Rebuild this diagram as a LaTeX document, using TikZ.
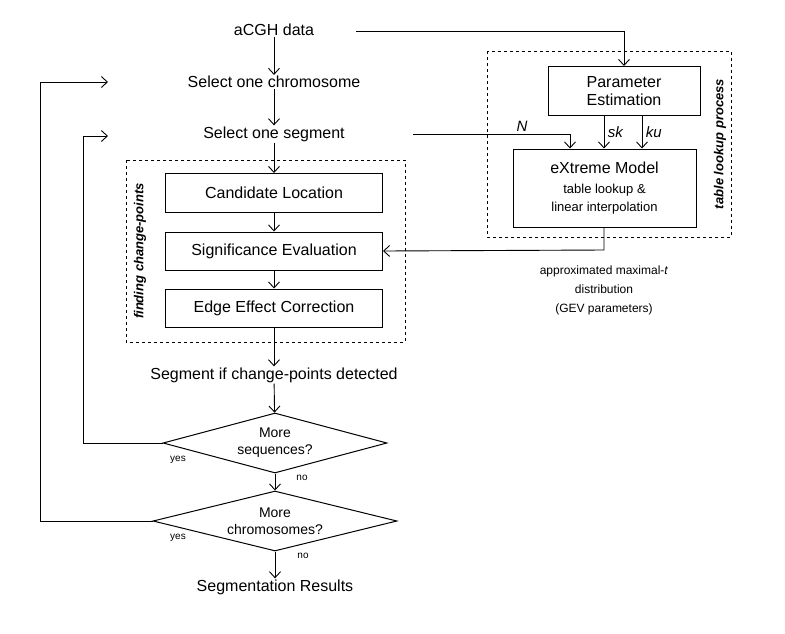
\documentclass[tikz,border=0pt]{standalone}
\usepackage{fontspec}
\setmainfont{Liberation Sans}
\usetikzlibrary{arrows.meta,shapes.geometric,positioning}

\tikzset{
    flow/.style={-{Straight Barb[length=6pt,width=11pt]}, line width=0.9pt},
    procbox/.style={draw, line width=1pt, inner sep=0pt, font=\fontsize{16}{18}\selectfont},
    txt/.style={inner sep=1pt, font=\fontsize{16}{18}\selectfont},
    decision/.style={draw, diamond, aspect=3.73, line width=1pt, inner sep=0pt, minimum width=224pt, minimum height=60pt, align=center, font=\fontsize{14}{17}\selectfont},
    group/.style={draw, dashed, line width=0.8pt},
    small/.style={font=\fontsize{10}{12}\selectfont},
}

\begin{document}
\begin{tikzpicture}[x=1pt, y=-1pt]
    \useasboundingbox (0,0) rectangle (785,633);

    % Main chain
    \node[txt] (data) at (274,30) {aCGH data};
    \node[txt] (chrom) at (274,82) {Select one chromosome};
    \node[txt] (seg) at (274,134) {Select one segment};

    % Finding change-points box
    \draw[group] (126,160) rectangle (405,342);
    \node[rotate=90, font=\fontsize{13}{15}\selectfont\bfseries\itshape] at (140,251) {finding change-points};
    \node[procbox, minimum width=217pt, minimum height=39pt] (cand) at (274,193) {Candidate Location};
    \node[procbox, minimum width=217pt, minimum height=38pt] (sig) at (274,251) {Significance Evaluation};
    \node[procbox, minimum width=217pt, minimum height=38pt] (edge) at (274,308) {Edge Effect Correction};

    \node[txt] (split) at (274,375) {Segment if change-points detected};
    \node[decision] (moreseq) at (275,443) {More\\sequences?};
    \node[decision, minimum width=244pt, aspect=4.07] (morechr) at (275,521) {More\\chromosomes?};
    \node[txt] (result) at (275,587) {Segmentation Results};

    \draw[flow] (data) -- (chrom);
    \draw[flow] (chrom) -- (seg);
    \draw[flow] (seg) -- (cand);
    \draw[flow] (cand) -- (sig);
    \draw[flow] (sig) -- (edge);
    \draw[flow] (edge) -- (split);
    \draw[flow] (split) -- (moreseq);
    \draw[flow] (moreseq) -- (morechr);
    \draw[flow] (morechr) -- (result);

    % Loops back
    \coordinate (seqin) at (108,136);
    \coordinate (chrin) at (108,82);
    \draw[flow] (moreseq.west) -| (83,136) -- (seqin);
    \draw[flow] (morechr.west) -| (40,82) -- (chrin);
    \node[small] at (178,460) {yes};
    \node[small] at (302,478) {no};
    \node[small] at (178,538) {yes};
    \node[small] at (303,556) {no};

    % Table lookup process
    \draw[group] (487,51) rectangle (731,237);
    \node[rotate=90, font=\fontsize{13}{15}\selectfont\bfseries\itshape] at (720,144) {table lookup process};
    \node[procbox, minimum width=152pt, minimum height=49pt, align=center] (param) at (624,91) {Parameter\\Estimation};
    \node[procbox, minimum width=183pt, minimum height=78pt, align=center] (model) at (604.5,188)
        {eXtreme Model\\[2pt]{\fontsize{13}{16}\selectfont table lookup \&}\\{\fontsize{13}{16}\selectfont linear interpolation}};

    \coordinate (datout) at (356,31);
    \coordinate (segout) at (413,134);
    \coordinate (bend) at (604,250);
    \draw[flow] (datout) -| (param.north);
    \draw[flow] (param.south -| 604,0) -- node[right, font=\fontsize{15}{17}\selectfont\itshape] {sk} (model.north -| 604,0);
    \draw[flow] (param.south -| 642,0) -- node[right, font=\fontsize{15}{17}\selectfont\itshape] {ku} (model.north -| 642,0);
    \draw[flow] (segout) -| (model.north -| 570,0);
    \node[font=\fontsize{15}{17}\selectfont\itshape] at (522,126) {N};
    \draw[flow] (model.south -| bend) -- (bend) -- (sig.east);

    \node[align=center, font=\fontsize{12}{19}\selectfont] at (604,290)
        {approximated maximal-\textit{t}\\distribution\\(GEV parameters)};
\end{tikzpicture}
\end{document}
